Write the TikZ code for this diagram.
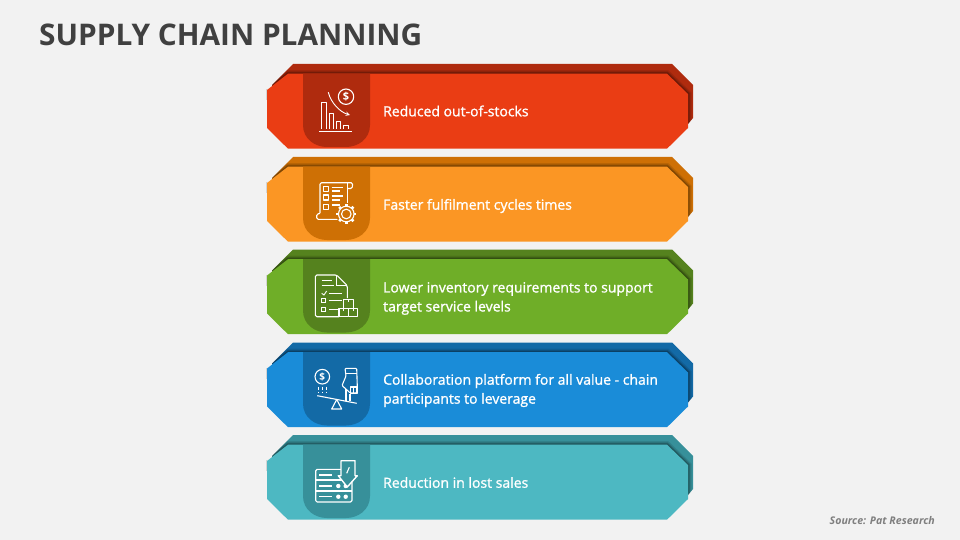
\documentclass[tikz,border=0pt]{standalone}
\usepackage{fontspec}
\setmainfont{Open Sans}
\newfontfamily\labelfont[FakeBold=1.2]{Open Sans}
\usepackage{tikz}

\definecolor{pagegray}{HTML}{F2F2F2}
\definecolor{titlegray}{HTML}{404040}
\definecolor{sourcegray}{HTML}{7F7F7F}
\definecolor{red1}{HTML}{EA3D14}
\definecolor{red2}{HTML}{AF2B0E}
\definecolor{orange1}{HTML}{FB9624}
\definecolor{orange2}{HTML}{CE7005}
\definecolor{green1}{HTML}{6FAE28}
\definecolor{green2}{HTML}{55821E}
\definecolor{blue1}{HTML}{1A8CD8}
\definecolor{blue2}{HTML}{136AA6}
\definecolor{teal1}{HTML}{4DB8C2}
\definecolor{teal2}{HTML}{37909A}

\begin{document}
\begin{tikzpicture}[x=1pt, y=-1pt,
    main/.style = {text=white, anchor=west, align=left, inner sep=0pt, font=\labelfont\fontsize{14}{19}\selectfont},
    icon/.style = {draw=white, line width=1.1pt, line join=round},
    thin icon/.style = {draw=white, line width=0.9pt},
    pics/band/.style n args={2}{code={
        \fill[#2] (293,64) -- (672,64) -- (693,85) -- (693,118) -- (688,124) -- (688,94) -- (272,94) -- (272,85) -- cycle;
        \begin{scope}
            \clip (293,64) -- (672,64) -- (693,85) -- (693,118) -- (688,124) -- (688,94) -- (272,94) -- (272,85) -- cycle;
            \draw[black, opacity=0.1, line width=7pt] (267,90) -- (288,73.7) -- (667,73.7) -- (688,94) -- (688,128);
            \draw[black, opacity=0.15, line width=4.5pt] (267,90) -- (288,73.7) -- (667,73.7) -- (688,94) -- (688,128);
            \draw[black, opacity=0.2, line width=2.5pt] (267,90) -- (288,73.7) -- (667,73.7) -- (688,94) -- (688,128);
        \end{scope}
        \draw[black, opacity=0.12, line width=1pt] (266.5,89) -- (266.5,100);
        \fill[#1] (267,90) -- (288,73.7) -- (667,73.7) -- (688,94) -- (688,128) -- (667,148.7) -- (288,148.7) -- (267,128) -- cycle;
        \fill[#2] (303,73.7) -- (303,125) .. controls (303,139) and (315,147) .. (327,147) -- (346,147) .. controls (358,147) and (370,139) .. (370,125) -- (370,73.7) -- cycle;
    }}]

    \fill[pagegray] (0,0) rectangle (960,540);
    \useasboundingbox (0,0) rectangle (960,540);

    \node[anchor=west, inner sep=0pt, text=titlegray, font=\bfseries\fontsize{29.8}{34}\selectfont] (title) at (39,35) {SUPPLY CHAIN PLANNING};
    \node[anchor=east, inner sep=0pt, text=sourcegray, font=\bfseries\itshape\fontsize{10.6}{12}\selectfont] (source) at (935,521) {Source: Pat Research};

    \pic at (0,0) {band={red1}{red2}};
    \pic at (0,93) {band={orange1}{orange2}};
    \pic at (0,185.5) {band={green1}{green2}};
    \pic at (0,278.5) {band={blue1}{blue2}};
    \pic at (0,371) {band={teal1}{teal2}};

    \node[main] (t1) at (383,111) {Reduced out-of-stocks};
    \node[main] (t2) at (383,206) {Faster fulfilment cycles times};
    \node[main] (t3) at (383,298.5) {Lower inventory requirements to support\\target service levels};
    \node[main] (t4) at (383,390.5) {Collaboration platform for all value - chain\\participants to leverage};
    \node[main] (t5) at (383,482.5) {Reduction in lost sales};

    % falling sales
    \draw[icon] (346,96.7) circle (7.7);
    \node[text=white, inner sep=0pt, font=\bfseries\fontsize{11}{11}\selectfont] (dollar1) at (346,96.7) {\$};
    \draw[thin icon, ->, >=stealth] (328.3,92.3) .. controls (331,103) and (340,112) .. (350,115);
    \draw[icon] (321.7,129) -- (321.7,102.3) -- (326.7,102.3) -- (326.7,129);
    \draw[icon] (329.3,129) -- (329.3,113.3) -- (333.7,113.3) -- (333.7,129);
    \draw[icon] (336.3,129) -- (336.3,121.7) -- (340.7,121.7) -- (340.7,129);
    \draw[icon] (343.7,129) -- (343.7,125.7) -- (348.7,125.7) -- (348.7,129);
    \draw[icon] (319.3,131.3) -- (351.7,131.3);

    % scroll and gear
    \draw[icon, rounded corners=1.5pt] (320,213) -- (320,182.7) -- (352.7,182.7) -- (352.2,188.5) -- (347.3,188.5);
    \draw[icon] (347.3,183) -- (347.3,203);
    \draw[icon, rounded corners=1.5pt] (320,213.5) -- (316.7,214) -- (316.7,219.3) -- (338,219.3);
    \draw[icon] (323.3,186.7) rectangle (328.3,191.7);
    \draw[icon] (323.3,195) rectangle (328.3,200);
    \draw[icon] (323.3,204.3) rectangle (328.3,209.3);
    \draw[icon] (331.7,187.3) -- (343.3,187.3);
    \draw[icon, line width=1.6pt] (331.7,191) -- (340,191);
    \draw[icon] (331.7,196) -- (343.3,196);
    \draw[icon, line width=1.6pt] (331.7,200) -- (340,200);
    \draw[icon] (331.7,205) -- (340,205);
    \fill[orange2] (346.3,214) circle (10.5);
    \foreach \a in {0,45,...,315}
        \draw[icon, line width=2.6pt] (346.3,214) ++(\a:7.5) -- ++(\a:2.6);
    \draw[icon, fill=orange2] (346.3,214) circle (7.8);
    \draw[icon] (346.3,214) circle (4.8);

    % checklist and boxes
    \draw[icon, rounded corners=1.5pt] (347.3,298) -- (347.3,285.7) -- (336.7,275) -- (315.3,275) -- (315.3,316.7) -- (339,316.7);
    \draw[thin icon] (336.7,275) -- (336.7,285.7) -- (347.3,285.7);
    \draw[thin icon] (321.7,280) -- (331.7,280);
    \draw[thin icon] (321.7,285.7) -- (334,285.7);
    \draw[thin icon] (321.7,293.3) -- (324,295) -- (326.7,291);
    \draw[thin icon] (329,293.3) -- (341.7,293.3);
    \draw[thin icon] (321.7,298.3) rectangle (325.7,302.3);
    \draw[thin icon] (321.7,307.3) rectangle (325.7,311.3);
    \draw[thin icon] (329,300) -- (341.7,300);
    \draw[thin icon] (329,309) -- (338,309);
    \draw[icon] (343.3,308.3) rectangle (353.3,299.3);
    \draw[icon, fill=green2] (339,308.3) rectangle (348.3,316.7);
    \draw[icon, fill=green2] (348.3,308.3) rectangle (357.7,316.7);
    \draw[thin icon] (343.7,308.3) -- (343.7,311);
    \draw[thin icon] (353,308.3) -- (353,311);
    \draw[thin icon] (348.3,299.3) -- (348.3,302);

    % lever and hand
    \draw[icon] (322.3,376.7) circle (7.3);
    \node[text=white, inner sep=0pt, font=\bfseries\fontsize{10}{10}\selectfont] (dollar4) at (322.3,376.7) {\$};
    \draw[icon] (318.3,386.7) -- (318.3,390);
    \draw[icon] (322.3,386.7) -- (322.3,390);
    \draw[icon] (326.3,386.7) -- (326.3,390);
    \draw[icon] (318.3,391.7) -- (318.3,392.8);
    \draw[icon] (322.3,391.7) -- (322.3,392.8);
    \draw[icon] (326.3,391.7) -- (326.3,392.8);
    \draw[icon] (317.3,395.7) -- (356.7,403.3);
    \draw[icon] (331.7,409) -- (336.7,399.5) -- (341.7,409) -- cycle;
    \draw[icon, rounded corners=1pt] (345,368.3) -- (356.7,368.3) -- (357.3,387) -- (357,393) -- (350.3,393) -- (342,385.5) -- (346,376) -- cycle;
    \draw[icon] (345,373.5) -- (356.7,373.5);
    \draw[icon] (350.3,387) rectangle (357,393.5);
    \draw[thin icon] (353.6,387) -- (353.6,393.5);
    \draw[icon] (346,389) -- (346,400.5);
    \draw[icon] (350,393.5) -- (350,401);

    % server and download
    \draw[icon, rounded corners=1.5pt] (315.7,469.3) rectangle (352,502);
    \draw[icon] (315.7,480) -- (352,480);
    \draw[icon] (315.7,491) -- (352,491);
    \draw[icon] (319.3,475) -- (331.7,475);
    \draw[icon] (319.3,486) -- (331.7,486);
    \draw[icon] (319.3,496.7) -- (331.7,496.7);
    \fill[white] (338.3,486) circle (2.2);
    \fill[white] (345.7,486) circle (2.2);
    \fill[white] (338.3,496.7) circle (2.2);
    \fill[white] (345.7,496.7) circle (2.2);
    \draw[icon, line width=1.4pt, fill=teal2] (341,460.7) -- (355,460.7) -- (355,475.7) -- (357.3,475.7) -- (347.3,487) -- (338.3,475.7) -- (341,475.7) -- cycle;
    \draw[icon] (349.3,467.3) -- (346.7,473.3);
\end{tikzpicture}
\end{document}
